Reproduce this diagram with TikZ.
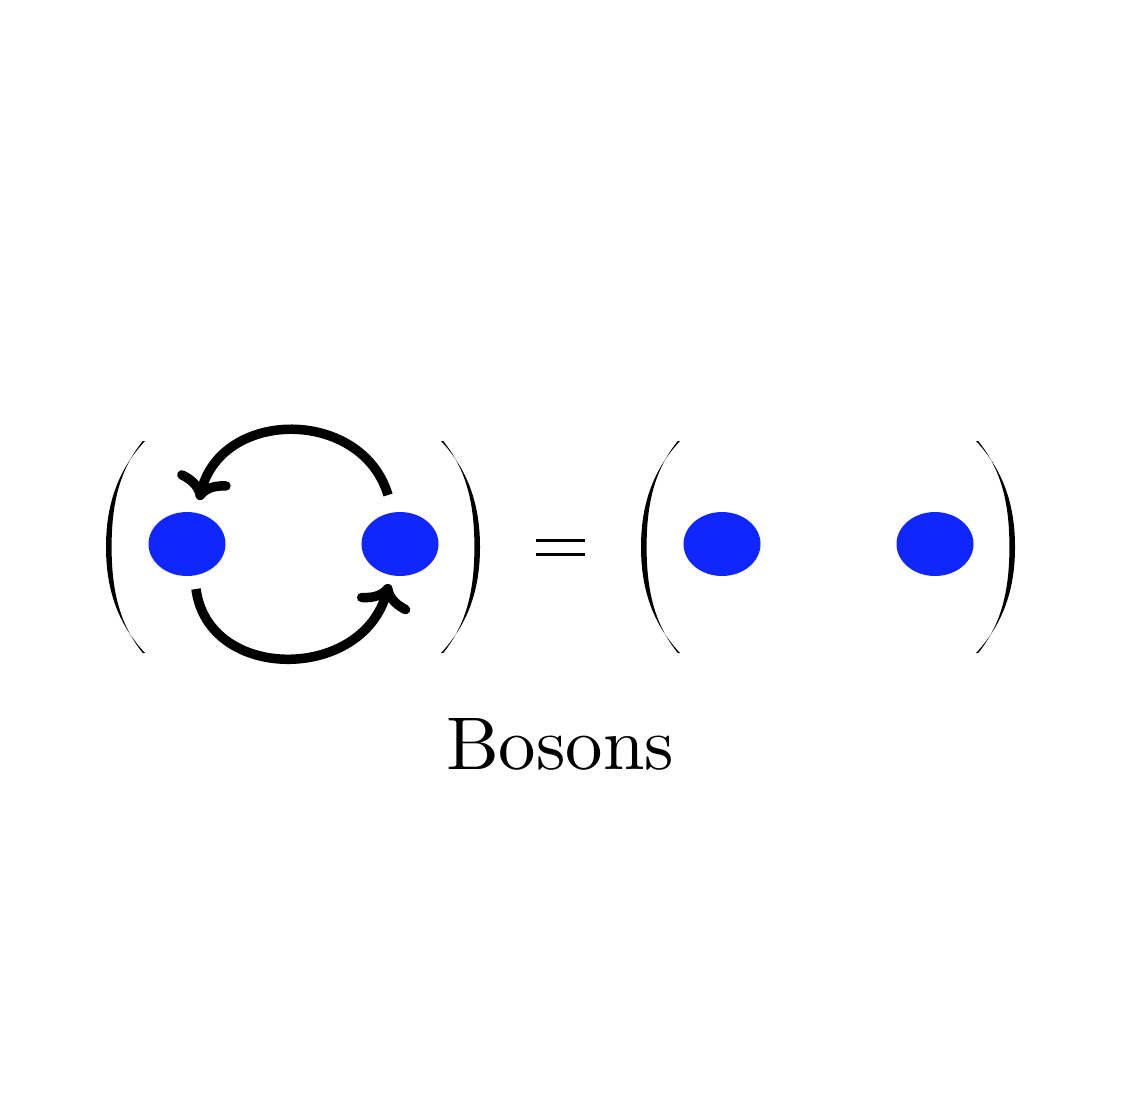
\documentclass[tikz,border=0pt]{standalone}
\usetikzlibrary{arrows.meta,shapes.geometric}
\definecolor{bblue}{RGB}{15,38,255}
\begin{document}
\begin{tikzpicture}[x=0.02cm,y=-0.02cm,
  dot/.style={ellipse,fill=bblue,draw=none,minimum width=1.54cm,minimum height=1.28cm,inner sep=0pt},
  swap/.style={line width=5.4pt,line cap=butt,-{Computer Modern Rightarrow[length=5mm,width=11mm,round]}},
  lparen/.pic={\fill[black] (39,-106) .. controls (11,-76) and (0,-41) .. (0,0) .. controls (0,41) and (11,76) .. (39,106) -- (36.8,106) .. controls (12.5,76) and (5.6,41) .. (5.6,0) .. controls (5.6,-41) and (12.5,-76) .. (36.8,-106) -- cycle;}
]
\useasboundingbox (0,0) rectangle (1148,1100);
% parentheses
\pic at (106,547) {lparen};
\pic[xscale=-1] at (480,547) {lparen};
\pic at (641,547) {lparen};
\pic[xscale=-1] at (1015,547) {lparen};
% particles
\node[dot] (a1) at (187,544) {};
\node[dot] (b1) at (400,544) {};
\node[dot] (a2) at (722,544) {};
\node[dot] (b2) at (935,544) {};
% exchange arrows
\coordinate (ts) at (388,495);
\coordinate (te) at (199,500);
\coordinate (bs) at (196,589);
\coordinate (be) at (389,584);
\draw[swap] (ts) .. controls (362,408) and (222,408) .. (te);
\draw[swap] (bs) .. controls (208,682) and (362,682) .. (be);
% equals sign
\draw[line width=1.7pt] (536,540) -- (585,540);
\draw[line width=1.7pt] (536,554) -- (585,554);
% label
\node[scale=4.25,transform shape] (lbl) at (560,744) {Bosons};
\end{tikzpicture}
\end{document}
